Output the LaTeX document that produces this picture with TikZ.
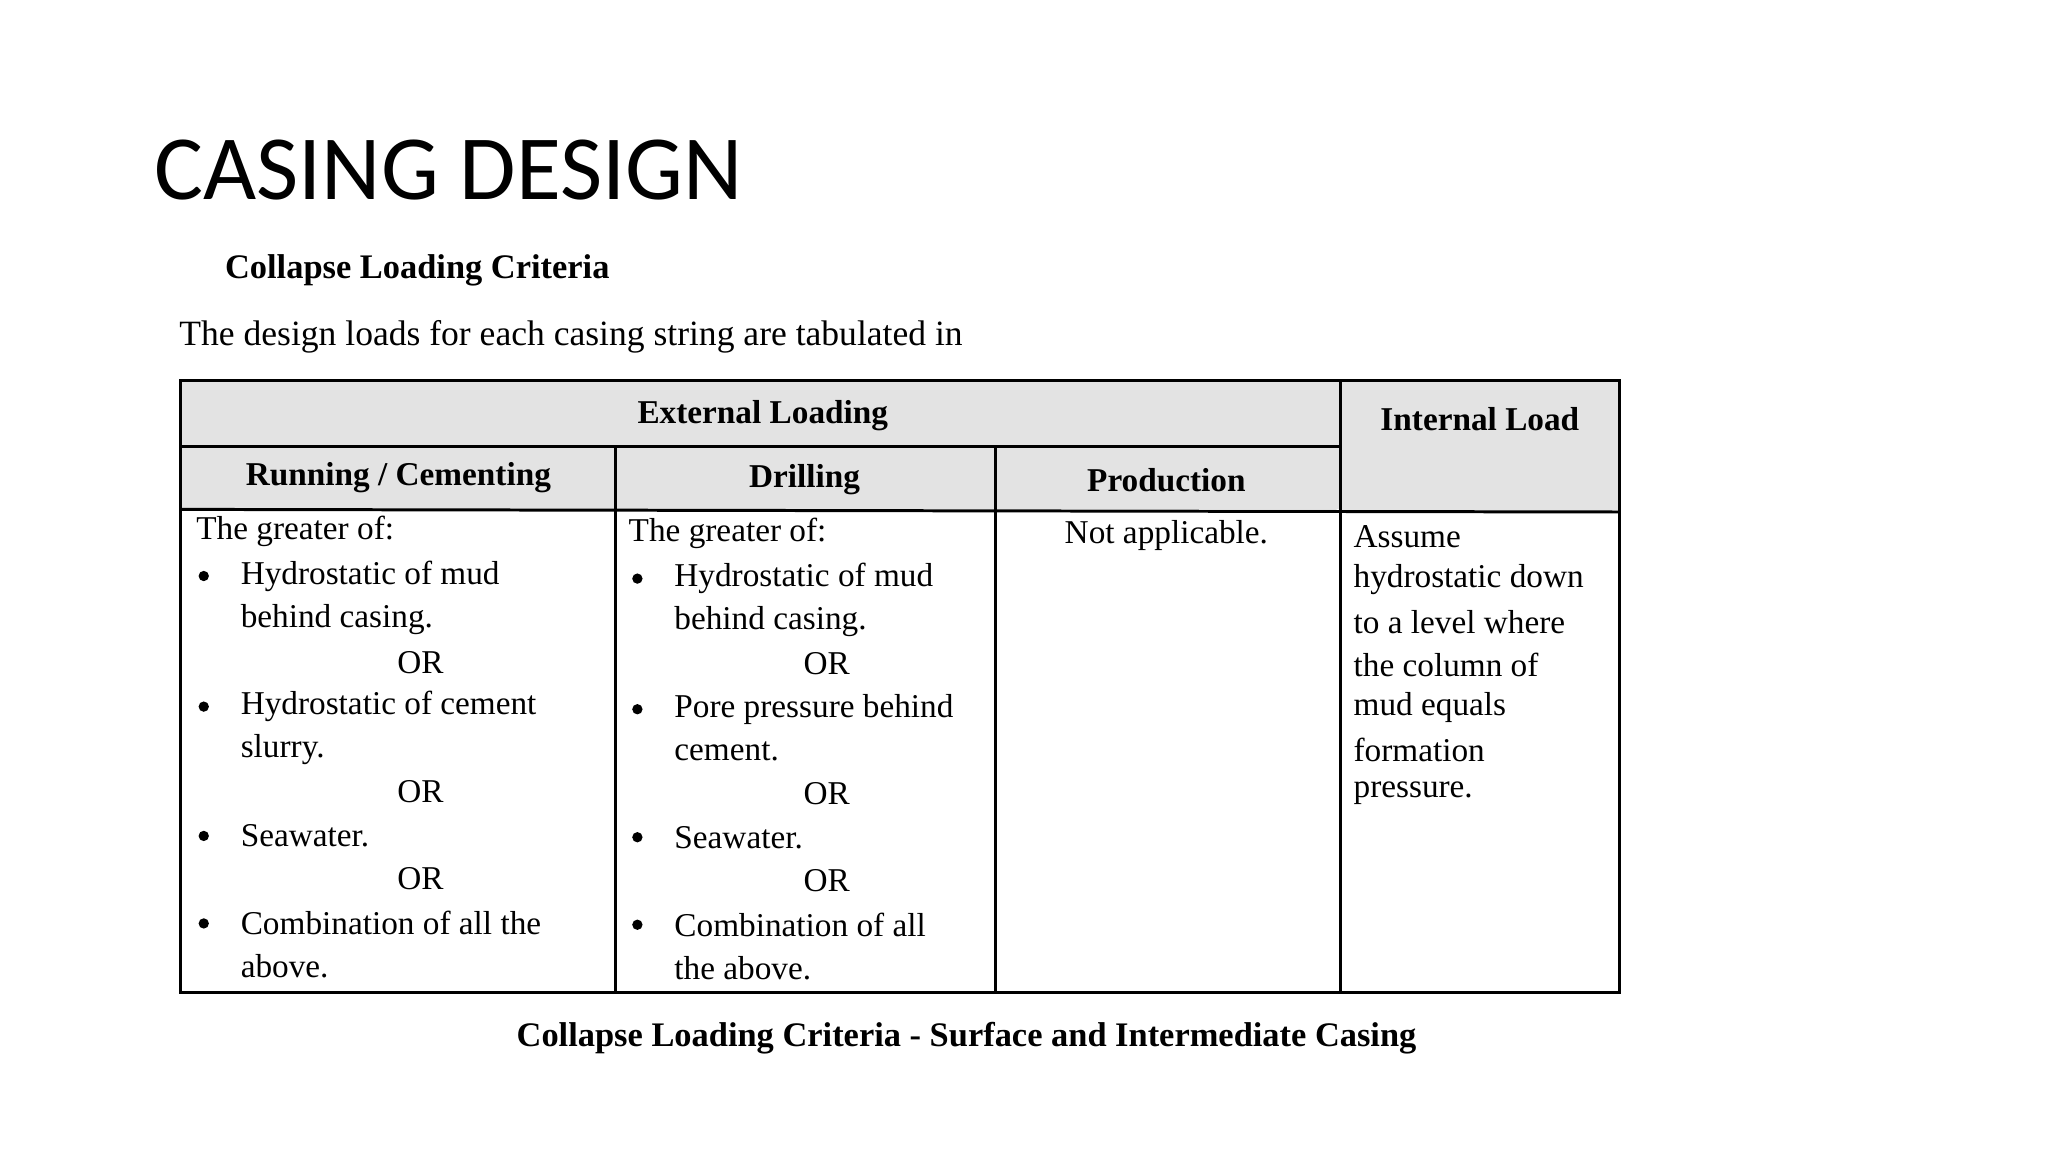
\documentclass[tikz,border=0pt]{standalone}
\usepackage{fontspec}
\setmainfont{Liberation Serif}
\newfontfamily\titlefont{Carlito}
\begin{document}
\begin{tikzpicture}[x=0.02cm,y=-0.02cm,
  txt/.style={anchor=west,inner sep=0pt,font=\fontsize{14.5}{16}\selectfont},
  ctr/.style={anchor=center,inner sep=0pt,font=\fontsize{14.5}{16}\selectfont},
  hdr/.style={anchor=center,inner sep=0pt,font=\fontsize{14.5}{16}\selectfont\bfseries},
  bul/.style={circle,fill=black,inner sep=0pt,minimum size=4.5pt},
  grid/.style={draw=black,line width=1.3pt},
  hfill/.style={fill=gray!22}]
\useasboundingbox (0,0) rectangle (1568,882);
\node[anchor=west,inner sep=0pt,font=\titlefont\fontsize{40}{44}\selectfont] (title) at (118,130) {CASING DESIGN};
\node[anchor=west,inner sep=0pt,font=\fontsize{15}{17}\selectfont\bfseries] (sub) at (172,207) {Collapse Loading Criteria};
\node[anchor=west,inner sep=0pt,font=\fontsize{15.5}{17}\selectfont] (intro) at (137,258) {The design loads for each casing string are tabulated in};
% header fills
\fill[hfill] (138,291) rectangle (1026,390);
\fill[hfill] (1026,291) rectangle (1240,392);
% grid
\draw[grid] (138,291) rectangle (1240,760);
\draw[grid] (138,342) -- (1026,342);
\draw[grid] (138,390) -- (1240,392);
\draw[grid] (471,342) -- (471,760);
\draw[grid] (762,342) -- (762,760);
\draw[grid] (1026,291) -- (1026,760);
% headers
\node[hdr] (h0) at (584,318) {External Loading};
\node[hdr] (h4) at (1133,321) {Internal Load};
\node[hdr] (h1) at (305,366) {Running / Cementing};
\node[hdr] (h2) at (616,367) {Drilling};
\node[hdr] (h3) at (893,368) {Production};
% column 1
\node[txt] (a0) at (150,407) {The greater of:};
\node[bul] (ab1) at (156,441) {}; \node[txt] (a1) at (184,441) {Hydrostatic of mud};
\node[txt] (a2) at (184,474) {behind casing.};
\node[ctr] (a3) at (322,507) {OR};
\node[bul] (ab4) at (156,541) {}; \node[txt] (a4) at (184,541) {Hydrostatic of cement};
\node[txt] (a5) at (184,574) {slurry.};
\node[ctr] (a6) at (322,606) {OR};
\node[bul] (ab7) at (156,640) {}; \node[txt] (a7) at (184,640) {Seawater.};
\node[ctr] (a8) at (322,673) {OR};
\node[bul] (ab9) at (156,707) {}; \node[txt] (a9) at (184,707) {Combination of all the};
\node[txt] (a10) at (184,740) {above.};
% column 2
\node[txt] (b0) at (481,408) {The greater of:};
\node[bul] (bb1) at (488,443) {}; \node[txt] (b1) at (516,443) {Hydrostatic of mud};
\node[txt] (b2) at (516,476) {behind casing.};
\node[ctr] (b3) at (633,508) {OR};
\node[bul] (bb4) at (488,543) {}; \node[txt] (b4) at (516,543) {Pore pressure behind};
\node[txt] (b5) at (516,575) {cement.};
\node[ctr] (b6) at (633,608) {OR};
\node[bul] (bb7) at (488,641) {}; \node[txt] (b7) at (516,641) {Seawater.};
\node[ctr] (b8) at (633,674) {OR};
\node[bul] (bb9) at (488,708) {}; \node[txt] (b9) at (516,708) {Combination of all};
\node[txt] (b10) at (516,741) {the above.};
% column 3
\node[ctr] (c0) at (893,410) {Not applicable.};
% column 4
\node[txt] (d0) at (1036,411) {Assume};
\node[txt] (d1) at (1036,444) {hydrostatic down};
\node[txt] (d2) at (1036,476) {to a level where};
\node[txt] (d3) at (1036,509) {the column of};
\node[txt] (d4) at (1036,542) {mud equals};
\node[txt] (d5) at (1036,574) {formation};
\node[txt] (d6) at (1036,607) {pressure.};
% caption
\node[hdr,font=\fontsize{15}{17}\selectfont\bfseries] (cap) at (740,795) {Collapse Loading Criteria - Surface and Intermediate Casing};
\end{tikzpicture}
\end{document}
